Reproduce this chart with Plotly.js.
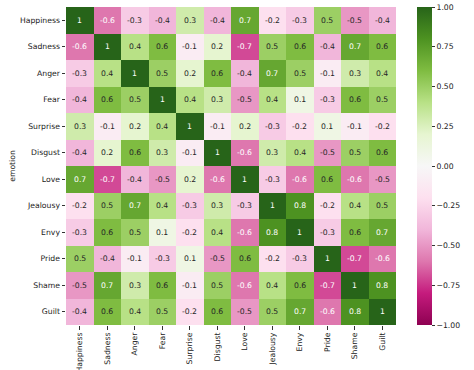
<!DOCTYPE html>
<html>
<head>
<meta charset="utf-8">
<script src="https://cdn.plot.ly/plotly-3.0.1.min.js"></script>
<style>html,body{margin:0;padding:0;background:#fff;}#chart{width:474px;height:370px;}</style>
</head>
<body>
<div id="chart"></div>
<script>
const emotions = ["Happiness","Sadness","Anger","Fear","Surprise","Disgust","Love","Jealousy","Envy","Pride","Shame","Guilt"];
const rowHappiness = [1, -0.6, -0.3, -0.4, 0.3, -0.4, 0.7, -0.2, -0.3, 0.5, -0.5, -0.4];
const rowSadness   = [-0.6, 1, 0.4, 0.6, -0.1, 0.2, -0.7, 0.5, 0.6, -0.4, 0.7, 0.6];
const rowAnger     = [-0.3, 0.4, 1, 0.5, 0.2, 0.6, -0.4, 0.7, 0.5, -0.1, 0.3, 0.4];
const rowFear      = [-0.4, 0.6, 0.5, 1, 0.4, 0.3, -0.5, 0.4, 0.1, -0.3, 0.6, 0.5];
const rowSurprise  = [0.3, -0.1, 0.2, 0.4, 1, -0.1, 0.2, -0.3, -0.2, 0.1, -0.1, -0.2];
const rowDisgust   = [-0.4, 0.2, 0.6, 0.3, -0.1, 1, -0.6, 0.3, 0.4, -0.5, 0.5, 0.6];
const rowLove      = [0.7, -0.7, -0.4, -0.5, 0.2, -0.6, 1, -0.3, -0.6, 0.6, -0.6, -0.5];
const rowJealousy  = [-0.2, 0.5, 0.7, 0.4, -0.3, 0.3, -0.3, 1, 0.8, -0.2, 0.4, 0.5];
const rowEnvy      = [-0.3, 0.6, 0.5, 0.1, -0.2, 0.4, -0.6, 0.8, 1, -0.3, 0.6, 0.7];
const rowPride     = [0.5, -0.4, -0.1, -0.3, 0.1, -0.5, 0.6, -0.2, -0.3, 1, -0.7, -0.6];
const rowShame     = [-0.5, 0.7, 0.3, 0.6, -0.1, 0.5, -0.6, 0.4, 0.6, -0.7, 1, 0.8];
const rowGuilt     = [-0.4, 0.6, 0.4, 0.5, -0.2, 0.6, -0.5, 0.5, 0.7, -0.6, 0.8, 1];
const colorbarTicks = [-1, -0.75, -0.5, -0.25, 0, 0.25, 0.5, 0.75, 1];

const z = [rowHappiness,rowSadness,rowAnger,rowFear,rowSurprise,rowDisgust,rowLove,rowJealousy,rowEnvy,rowPride,rowShame,rowGuilt];

const piyg = ["#8e0152","#c51b7d","#de77ae","#f1b6da","#fde0ef","#f7f7f7","#e6f5d0","#b8e186","#7fbc41","#4d9221","#276419"];
const colorscale = piyg.map((c,i)=>[i/10, c]);

function hex2rgb(h){return [parseInt(h.slice(1,3),16),parseInt(h.slice(3,5),16),parseInt(h.slice(5,7),16)];}
function colorAt(v){
  const t = (v+1)/2*10;
  const i = Math.min(9, Math.floor(t));
  const f = t - i;
  const a = hex2rgb(piyg[i]), b = hex2rgb(piyg[i+1]);
  return a.map((x,k)=>x+(b[k]-x)*f);
}
function lum(rgb){
  const l = rgb.map(c=>{c/=255;return c<=0.03928?c/12.92:Math.pow((c+0.055)/1.055,2.4);});
  return 0.2126*l[0]+0.7152*l[1]+0.0722*l[2];
}

const annotations = [];
z.forEach((row,r)=>row.forEach((v,c)=>{
  const L = lum(colorAt(v));
  annotations.push({x: emotions[c], y: emotions[r], text: String(v), showarrow:false,
    font:{family:"DejaVu Sans", size:7.7, color: L > 0.4 ? "#262626" : "#ffffff"}});
}));

const trace = {
  type:"heatmap", x: emotions, y: emotions, z: z,
  zmin:-1, zmax:1, colorscale: colorscale,
  colorbar:{x:1.0636, xanchor:"left", xref:"paper", y:0.5, yanchor:"middle", len:1, lenmode:"fraction",
    thickness:15, thicknessmode:"pixels", outlinewidth:0, ticks:"outside", ticklen:3.5, tickwidth:0.8,
    tickcolor:"#000", tickvals: colorbarTicks, tickformat:".2f",
    tickfont:{family:"DejaVu Sans", size:7.7, color:"#222"}, xpad:0, ypad:0}
};

const layout = {
  width:474, height:370,
  margin:{l:66, r:78, t:7, b:45},
  paper_bgcolor:"#fff", plot_bgcolor:"#fff",
  font:{family:"DejaVu Sans", size:7.7, color:"#222"},
  xaxis:{type:"category", tickangle:-90, ticks:"outside", ticklen:3.5, tickwidth:0.8, tickcolor:"#000",
    showgrid:false, zeroline:false, showline:false, tickfont:{size:7.7}},
  yaxis:{type:"category", autorange:"reversed", ticks:"outside", ticklen:3.5, tickwidth:0.8, tickcolor:"#000",
    showgrid:false, zeroline:false, showline:false, tickfont:{size:7.7},
    title:{text:"emotion", font:{size:7.7}, standoff:3}},
  annotations: annotations
};

Plotly.newPlot("chart", [trace], layout, {displayModeBar:false, staticPlot:true});
</script>
</body>
</html>
